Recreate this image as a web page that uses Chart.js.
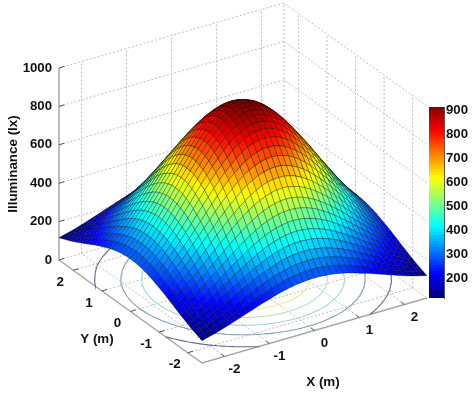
<!DOCTYPE html>
<html>
<head>
<meta charset="utf-8">
<script src="https://cdn.jsdelivr.net/npm/chart.js@4"></script>
<style>
    html, body { margin: 0; padding: 0; background: #fff; overflow: hidden; }
    canvas { position: absolute; filter: blur(0.5px); }
    #surfaceChart { left: 0; top: 0; }
    #colorbarChart { left: 429px; top: 95px; }
</style>
</head>
<body>
<canvas id="surfaceChart" width="474" height="393"></canvas>
<canvas id="colorbarChart" width="45" height="215"></canvas>
<script>
// illuminance, one quadrant (0..2.5 m in 0.125 m steps), the room is symmetric
const quadrantLux = [
    [915,912,903,889,869,843,814,780,744,704,663,621,577,534,492,450,411,373,337,304,273],
    [912,909,900,886,866,841,811,778,741,702,661,619,576,533,490,449,409,372,336,303,273],
    [903,900,891,877,857,833,803,770,734,695,655,613,570,528,486,445,406,368,333,301,270],
    [889,886,877,863,844,819,791,758,723,685,645,603,561,520,478,438,400,363,329,297,267],
    [869,866,857,844,825,801,773,741,707,669,630,590,549,509,468,429,392,356,322,291,262],
    [843,841,833,819,801,778,751,720,687,651,613,574,534,495,456,418,382,347,314,284,256],
    [814,811,803,791,773,751,725,695,663,628,592,555,516,478,441,405,370,336,305,276,249],
    [780,778,770,758,741,720,695,667,636,603,568,533,496,460,424,389,356,324,294,266,240],
    [744,741,734,723,707,687,663,636,607,576,543,509,474,440,406,373,341,311,282,256,231],
    [704,702,695,685,669,651,628,603,576,546,515,483,450,418,386,355,325,297,270,245,222],
    [663,661,655,645,630,613,592,568,543,515,486,456,425,395,365,336,308,281,256,233,212],
    [621,619,613,603,590,574,554,533,509,483,456,428,400,372,344,317,291,266,243,221,201],
    [577,576,570,561,549,534,516,496,474,450,426,400,374,348,322,297,273,251,229,209,191],
    [534,533,528,520,509,495,478,460,440,418,395,372,348,324,301,278,256,235,215,197,180],
    [492,490,486,478,468,456,441,424,406,386,365,344,322,301,279,259,239,219,202,185,170],
    [450,449,445,438,429,418,405,389,373,355,336,317,297,278,259,240,222,205,188,173,159],
    [411,409,406,400,392,382,370,356,341,325,308,291,273,256,239,222,206,190,176,162,150],
    [373,372,368,363,356,347,336,324,311,297,281,266,251,235,219,205,190,176,164,152,140],
    [337,336,333,329,322,314,305,294,282,270,257,243,229,215,202,188,176,164,152,142,132],
    [304,303,301,297,291,284,276,266,256,245,233,221,209,197,185,173,162,152,142,132,124],
    [273,273,270,267,262,256,249,240,231,222,212,201,191,180,170,159,150,140,132,124,116]
];
const gridStep = 0.125;
const roomEdge = 2.5;
const xyTicks = [-2, -1, 0, 1, 2];
const zTicks = [0, 200, 400, 600, 800, 1000];
const colorbarTicks = [200, 300, 400, 500, 600, 700, 800, 900];
const colorRange = [117, 912];
const contourLevels = [214, 326, 442, 549, 663];
const contourColors = ['#5f6b8c', '#7f9db8', '#9fd4dc', '#b4e4c0', '#efe79a'];

const fontFamily = '"Liberation Sans", Arial, sans-serif';
const labelFont = 'bold 13.4px ' + fontFamily;
const tickFont = { family: fontFamily, size: 13.2, weight: 'bold' };
const textColor = '#111';
const dottedGrey = '#bcbcbc';
const axisGrey = '#a6a6a6';

function jet(t) {
    const c = v => Math.round(255 * Math.min(1, Math.max(0, v)));
    return 'rgb(' + c(Math.min(4 * t - 1.5, -4 * t + 4.5)) + ',' + c(Math.min(4 * t - 0.5, -4 * t + 3.5)) + ',' + c(Math.min(4 * t + 0.5, -4 * t + 2.5)) + ')';
}

function luxColor(lux) {
    return jet((lux - colorRange[0]) / (colorRange[1] - colorRange[0]));
}

// view of the box: chart x is metres across the screen, chart y is lux-sized units up the screen
function project(x, y, z) {
    return { x: 0.8443 * x - 0.5366 * y, y: z - 98.96 + 67.7 * x + 107.3 * y };
}

const lastIndex = quadrantLux.length * 2 - 2;
function luxAt(i, j) {
    const mid = quadrantLux.length - 1;
    return quadrantLux[Math.abs(j - mid)][Math.abs(i - mid)];
}
const coord = i => -roomEdge + i * gridStep;

// back to front list, reversed at the end because Chart.js paints the first dataset last
const layers = [];

function addLine(points, color, width, dash) {
    layers.push({
        data: points,
        showLine: true,
        pointRadius: 0,
        borderColor: color,
        borderWidth: width,
        borderDash: dash || [],
        fill: false,
        clip: false
    });
}

const e = roomEdge;
const dash = [2, 2];

// walls
zTicks.forEach(z => {
    addLine([project(-e, e, z), project(e, e, z), project(e, -e, z)], dottedGrey, 1, dash);
});
addLine([project(e, e, 0), project(e, e, 1000)], dottedGrey, 1, dash);
xyTicks.forEach(t => {
    addLine([project(t, e, 0), project(t, e, 1000)], dottedGrey, 1, dash);
    addLine([project(e, t, 0), project(e, t, 1000)], dottedGrey, 1, dash);
    addLine([project(t, -e, 0), project(t, e, 0)], dottedGrey, 1, dash);
    addLine([project(-e, t, 0), project(e, t, 0)], dottedGrey, 1, dash);
});

// solid axes and tick marks
addLine([project(-e, e, 0), project(-e, e, 1000)], axisGrey, 1.5);
addLine([project(-e, e, 0), project(-e, -e, 0), project(e, -e, 0)], axisGrey, 1.5);
xyTicks.forEach(t => {
    addLine([project(t, -e, 0), project(t, -e + 0.12, 0)], '#555', 1);
    addLine([project(-e, t, 0), project(-e + 0.12, t, 0)], '#555', 1);
});
zTicks.forEach(z => {
    addLine([project(-e, e, z), project(-e + 0.12, e, z)], '#555', 1);
});

contourLevels.forEach((level, n) => {
    const pts = [];
    const cross = (a, b, xa, ya, xb, yb, out) => {
        if ((a < level) !== (b < level)) {
            const f = (level - a) / (b - a);
            out.push(project(xa + (xb - xa) * f, ya + (yb - ya) * f, 0));
        }
    };
    for (let j = 0; j < lastIndex; j++) {
        for (let i = 0; i < lastIndex; i++) {
            const x0 = coord(i), x1 = coord(i + 1), y0 = coord(j), y1 = coord(j + 1);
            const a = luxAt(i, j), b = luxAt(i + 1, j), c = luxAt(i + 1, j + 1), d = luxAt(i, j + 1);
            const found = [];
            cross(a, b, x0, y0, x1, y0, found);
            cross(b, c, x1, y0, x1, y1, found);
            cross(c, d, x1, y1, x0, y1, found);
            cross(d, a, x0, y1, x0, y0, found);
            if (found.length >= 2) {
                pts.push(found[0], found[1], { x: null, y: null });
            }
        }
    }
    addLine(pts, contourColors[n], 1.1);
});

// surface cells, far corner first so the near ones cover them
for (let j = lastIndex - 1; j >= 0; j--) {
    for (let i = lastIndex - 1; i >= 0; i--) {
        const x0 = coord(i), x1 = coord(i + 1), y0 = coord(j), y1 = coord(j + 1);
        const a = luxAt(i, j), b = luxAt(i + 1, j), c = luxAt(i + 1, j + 1), d = luxAt(i, j + 1);
        const p0 = project(x0, y0, a);
        layers.push({
            data: [p0, project(x1, y0, b), project(x1, y1, c), project(x0, y1, d), p0],
            showLine: true,
            pointRadius: 0,
            borderColor: 'rgba(0,0,0,0.45)',
            borderWidth: 0.7,
            backgroundColor: luxColor((a + b + c + d) / 4),
            fill: 'shape',
            clip: false
        });
    }
}

const axisText = {
    id: 'axisText',
    afterDatasetsDraw(chart) {
        const { ctx, scales } = chart;
        const put = (p, dx, dy, text) => {
            ctx.fillText(text, scales.x.getPixelForValue(p.x) + dx, scales.y.getPixelForValue(p.y) + dy);
        };
        ctx.save();
        ctx.font = labelFont;
        ctx.fillStyle = textColor;
        ctx.textAlign = 'center';
        ctx.textBaseline = 'middle';
        xyTicks.forEach(t => {
            put(project(t, -e, 0), 10, 13, String(t));
            put(project(-e, t, 0), -13, 12, String(t));
        });
        put(project(0, -e, 0), 8.5, 51.5, 'X (m)');
        put(project(-e, 0, 0), -33.5, 27.5, 'Y (m)');
        const anchor = project(-e, e, 500);
        ctx.translate(scales.x.getPixelForValue(anchor.x) - 46, scales.y.getPixelForValue(anchor.y));
        ctx.rotate(-Math.PI / 2);
        ctx.fillText('Illuminance (lx)', 0, 0);
        ctx.restore();
    }
};

new Chart(document.getElementById('surfaceChart').getContext('2d'), {
    type: 'scatter',
    data: { datasets: layers.reverse() },
    options: {
        responsive: false,
        animation: false,
        events: [],
        layout: { padding: 0 },
        plugins: { legend: { display: false }, tooltip: { enabled: false } },
        scales: {
            x: { type: 'linear', display: false, min: -3.452, max: 4.334 },
            y: {
                type: 'linear',
                min: -692.7,
                max: 1354.2,
                afterFit(scale) {
                    scale.width = 59;
                    scale.paddingTop = 0;
                    scale.paddingBottom = 0;
                },
                afterBuildTicks(scale) { scale.ticks = zTicks.map(v => ({ value: v })); },
                border: { display: false },
                grid: { display: false, drawTicks: false },
                ticks: { autoSkip: false, padding: 7, color: textColor, font: tickFont, callback: v => String(v) }
            }
        }
    },
    plugins: [axisText]
});

// colour bar, one floating bar per colour band
const bandCount = 64;
const bandSets = [];
for (let k = 0; k < bandCount; k++) {
    const span = colorRange[1] - colorRange[0];
    bandSets.push({
        data: [[colorRange[0] + span * k / bandCount, colorRange[0] + span * (k + 1) / bandCount]],
        backgroundColor: jet((k + 0.5) / bandCount),
        borderWidth: 0,
        barPercentage: 1,
        categoryPercentage: 1,
        grouped: false
    });
}

new Chart(document.getElementById('colorbarChart').getContext('2d'), {
    type: 'bar',
    data: { labels: ['lux'], datasets: bandSets },
    options: {
        responsive: false,
        animation: false,
        events: [],
        layout: { padding: { top: 12, bottom: 12 } },
        plugins: { legend: { display: false }, tooltip: { enabled: false } },
        scales: {
            x: { display: false },
            y: {
                position: 'right',
                min: colorRange[0],
                max: colorRange[1],
                afterFit(scale) {
                    scale.width = 30;
                    scale.paddingTop = 0;
                    scale.paddingBottom = 0;
                },
                afterBuildTicks(scale) { scale.ticks = colorbarTicks.map(v => ({ value: v })); },
                border: { display: true, color: '#555', width: 1 },
                grid: { display: false, drawTicks: false },
                ticks: { autoSkip: false, padding: 2, color: textColor, font: tickFont, callback: v => String(v) }
            }
        }
    }
});
</script>
</body>
</html>
